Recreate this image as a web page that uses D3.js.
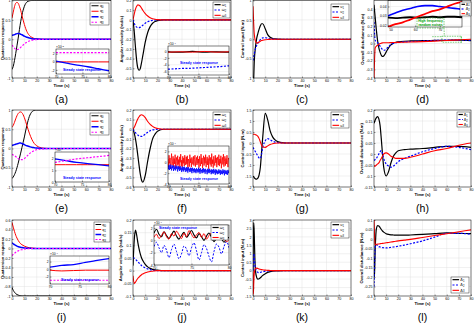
<!DOCTYPE html>
<html><head><meta charset="utf-8">
<script src="https://cdn.jsdelivr.net/npm/d3@7"></script>
<style>body{margin:0;background:#fff}svg{display:block}text{font-family:"Liberation Sans",Arial,sans-serif}</style>
</head><body><svg id="c" width="474" height="323"></svg>
<script>
// ---------- data ----------
const T  = [0,1,2,3,4,5,6,7,8,10,12,14,16,18,20,25,30,40,50,60,70,80];
const TF = [0,0.3,0.6,1,1.5,2,3,4,5,6,7,8,10,12,14,16,18,20,25,30,40,50,60,70,80];
const xTicksMain = [0,10,20,30,40,50,60,70,80];
const xTicksIn = [70,75,80];
const TIN = [70,72,74,76,78,80];

const aQ0 = [-0.78,-0.7,-0.55,-0.37,-0.17,0.03,0.25,0.45,0.62,0.85,0.96,0.99,1,1,1,1,1,1,1,1,1,1];
const aQ1 = [0.55,0.7,0.84,0.93,0.95,0.93,0.85,0.75,0.62,0.38,0.2,0.1,0.05,0.02,0.01,0,0,0,0,0,0,0];
const aQ2 = [0.1,0.11,0.12,0.135,0.145,0.15,0.145,0.13,0.115,0.08,0.05,0.03,0.015,0.008,0.004,0,0,0,0,0,0,0];
const aQ3 = [-0.15,-0.19,-0.23,-0.26,-0.27,-0.26,-0.24,-0.21,-0.18,-0.12,-0.075,-0.045,-0.025,-0.013,-0.007,-0.001,0,0,0,0,0,0];
const aInQ1 = [0,0,0,0,0,0];
const aInQ2 = [0.2,-0.3,-0.8,-1.2,-1.7,-2.2];
const aInQ3 = [2.3,2.3,2.3,2.3,2.3,2.3];

const bW1 = [0,-0.12,-0.28,-0.42,-0.5,-0.52,-0.5,-0.44,-0.37,-0.23,-0.13,-0.07,-0.035,-0.017,-0.008,0,0,0,0,0,0,0];
const bW2 = [0,-0.035,-0.06,-0.075,-0.08,-0.08,-0.075,-0.065,-0.055,-0.035,-0.02,-0.01,-0.005,-0.002,0,0,0,0,0,0,0,0];
const bW3 = [0,0.06,0.11,0.14,0.155,0.15,0.14,0.12,0.1,0.065,0.04,0.022,0.012,0.006,0.003,0,0,0,0,0,0,0];
const bInW1 = [-0.2,-0.3,-0.1,-0.3,-0.2,-0.3];
const bInW2 = [-5.3,-5.1,-5.0,-4.8,-4.6,-4.3];
const bInW3 = [-0.3,-0.2,-0.3,-0.1,-0.3,-0.2];

const cU1 = [-1.6,-0.6,-0.2,0.02,0.15,0.26,0.35,0.4,0.4,0.27,0.12,0.05,0.02,0.008,0.003,0,0,0,0,0,0,0];
const cU2 = [-0.55,-0.38,-0.25,-0.16,-0.1,-0.05,-0.01,0.02,0.035,0.04,0.025,0.012,0.005,0.002,0,0,0,0,0,0,0,0];
const cU3 = [0.85,0.15,-0.05,-0.1,-0.09,-0.07,-0.05,-0.035,-0.025,-0.012,-0.005,-0.002,0,0,0,0,0,0,0,0,0,0];

const dD1 = [0.45,0.3,0.15,0.03,-0.05,-0.1,-0.135,-0.15,-0.145,-0.1,-0.05,-0.015,0.005,0.015,0.02,0.027,0.03,0.033,0.036,0.038,0.04,0.035];
const dD2 = [0.25,0.04,0.02,0.01,-0.01,-0.03,-0.05,-0.07,-0.078,-0.065,-0.035,-0.012,0.002,0.01,0.015,0.02,0.024,0.03,0.036,0.04,0.04,0.037];
const dD3 = [-0.4,-0.05,-0.03,-0.02,-0.01,0,0.005,0.008,0.01,0.01,0.01,0.011,0.012,0.013,0.014,0.016,0.018,0.022,0.028,0.036,0.043,0.05];
const TIND = [49,52,55,58,61,64,67,70,73,76,79];
const dInD1 = [0.028,0.0275,0.028,0.0285,0.028,0.0285,0.029,0.0285,0.029,0.029,0.0285];
const dInD2 = [0.030,0.033,0.036,0.038,0.040,0.041,0.041,0.040,0.039,0.038,0.037];
const dInD3 = [0.018,0.021,0.023,0.026,0.029,0.032,0.035,0.037,0.040,0.043,0.045];

const eQ0 = [-0.78,-0.74,-0.68,-0.6,-0.5,-0.38,-0.25,-0.12,0.02,0.3,0.6,0.83,0.95,0.99,1,1,1,1,1,1,1,1];
const eQ1 = [0.55,0.6,0.68,0.77,0.85,0.91,0.94,0.95,0.93,0.8,0.6,0.4,0.24,0.13,0.07,0.01,0,0,0,0,0,0];
const eQ2 = [0.08,0.09,0.1,0.11,0.12,0.13,0.14,0.14,0.13,0.1,0.07,0.05,0.03,0.02,0.01,0.002,0,0,0,0,0,0];
const eQ3 = [-0.15,-0.17,-0.19,-0.21,-0.24,-0.26,-0.28,-0.29,-0.29,-0.26,-0.2,-0.14,-0.09,-0.05,-0.03,-0.01,0,0,0,0,0,0];
const eInQ1 = [1.5,1.5,1.5,1.5,1.5,1.5];
const eInQ2 = [2.0,1.85,1.7,1.6,1.5,1.4];
const eInQ3 = [1.7,1.85,2.0,2.1,2.2,2.3];

const fW1 = [0,-0.04,-0.1,-0.18,-0.28,-0.38,-0.47,-0.53,-0.55,-0.48,-0.33,-0.2,-0.1,-0.05,-0.02,0,0,0,0,0,0,0];
const fW2 = [0,-0.02,-0.035,-0.05,-0.06,-0.07,-0.075,-0.075,-0.07,-0.05,-0.03,-0.015,-0.007,-0.003,0,0,0,0,0,0,0,0];
const fW3 = [0,0.02,0.05,0.08,0.11,0.13,0.145,0.15,0.145,0.12,0.08,0.05,0.03,0.015,0.008,0,0,0,0,0,0,0];
const fInRed = [0.6,-0.9,1.3,-0.2,0.8,-1.2,0.3,1.6,-0.5,0.1,1.1,-0.8,0.7,-0.3,1.4,-1.0,0.2,0.9,-0.6,1.2,
 -0.4,0.5,-1.1,1.0,0.0,1.5,-0.7,0.4,-0.9,1.1,-0.2,0.8,-0.7,1.3,0.1,-0.5,1.0,-0.3,1.2,-1.0,
 0.6,0.2,-0.8,1.4,-0.1,0.7,-0.9,0.9,0.2,-0.4,1.1,-0.6,0.5,1.3,-0.8,0.3,0.9,-0.5,1.2,-0.2,
 0.6,-1.0,1.1,0.0,-0.7,1.5,-0.3,0.8,-1.1,0.4,1.2,-0.6,0.9,-0.2,1.4,-0.9,0.3,1.0,-0.5,0.7,
 -1.2,1.3,0.1,-0.4,0.9,-0.8,1.6,-0.3,0.5,-1.0,1.1,0.2,-0.6,1.3,-0.1,0.8,-0.9,1.0,0.3,-0.5,
 1.4,-0.7,0.6,-0.2,1.2,-1.1,0.4,0.9,-0.4,1.5,-0.8,0.2,1.1,-0.6,0.7,-0.3,1.3,0.0,-0.9,0.8,0.5];
const fInBlue = [-0.5,-1.3,-0.6,-1.4,-0.4,-1.2,-0.8,-1.5,-0.5,-1.1,-0.7,-1.6,-0.6,-1.3,-0.9,-1.5,-0.6,-1.2,-0.8,-1.7,
 -0.7,-1.3,-0.9,-1.6,-0.7,-1.4,-1.0,-1.8,-0.8,-1.5,-0.9,-1.7,-0.8,-1.4,-1.1,-1.8,-0.9,-1.6,-1.0,-1.9,
 -0.9,-1.5,-1.2,-1.8,-1.0,-1.7,-1.1,-2.0,-1.0,-1.6,-1.2,-1.9,-1.1,-1.8,-1.3,-2.0,-1.1,-1.7,-1.3,-1.9,
 -1.0,-1.8,-1.2,-2.1,-1.1,-1.7,-1.4,-2.0,-1.2,-1.9,-1.1,-1.8,-1.3,-2.1,-1.2,-1.7,-1.5,-2.2,-1.2,-1.9,
 -1.3,-2.0,-1.2,-1.8,-1.5,-2.2,-1.3,-2.0,-1.4,-2.1,-1.2,-1.9,-1.5,-2.3,-1.3,-2.0,-1.4,-2.2,-1.6,-2.1,
 -1.3,-2.0,-1.5,-2.3,-1.4,-2.1,-1.6,-2.2,-1.3,-2.0,-1.5,-2.4,-1.4,-2.1,-1.6,-2.2,-1.5,-2.3,-1.4,-2.0,-1.6];

const gU1 = [-1.5,-1.58,-1.63,-1.64,-1.6,-1.45,-1.1,-0.4,0.3,1.35,1.05,0.55,0.28,0.14,0.07,0.01,0,0,0,0,0,0];
const gU2 = [-0.2,-0.3,-0.4,-0.5,-0.6,-0.68,-0.7,-0.5,-0.2,0.1,0.2,0.15,0.08,0.04,0.02,0,0,0,0,0,0,0];
const gU3 = [0.4,0.4,0.38,0.35,0.3,0.2,0.05,-0.1,-0.18,-0.2,-0.13,-0.07,-0.03,-0.01,0,0,0,0,0,0,0,0];

const hD1 = [0.14,0.155,0.165,0.17,0.16,0.13,0.07,0,-0.06,-0.1,-0.08,-0.04,-0.01,0.005,0.015,0.02,0.022,0.025,0.03,0.035,0.035,0.03];
const hD2 = [-0.03,-0.025,-0.02,-0.01,0,0.01,0.015,0,-0.02,-0.045,-0.055,-0.06,-0.055,-0.045,-0.035,-0.02,-0.01,0.01,0.025,0.035,0.03,0.02];
const hD3 = [-0.055,-0.055,-0.05,-0.045,-0.04,-0.03,-0.02,-0.01,0,0.005,0,-0.01,-0.015,-0.02,-0.02,-0.02,-0.015,0,0.015,0.025,0.04,0.05];

const iQ0 = [-0.82,-0.88,-0.92,-0.95,-0.97,-0.98,-0.99,-0.995,-1,-1,-1,-1,-1,-1,-1,-1,-1,-1,-1,-1,-1,-1];
const iQ1 = [0.55,0.45,0.36,0.28,0.22,0.17,0.13,0.1,0.08,0.05,0.03,0.015,0.01,0.005,0,0,0,0,0,0,0,0];
const iQ2 = [0.12,0.1,0.08,0.065,0.05,0.04,0.03,0.025,0.02,0.012,0.007,0.004,0.002,0,0,0,0,0,0,0,0,0];
const iQ3 = [-0.15,-0.12,-0.1,-0.08,-0.065,-0.05,-0.04,-0.03,-0.025,-0.015,-0.008,-0.004,0,0,0,0,0,0,0,0,0,0];
const iInQ1 = [-0.3,-0.5,-0.4,-0.3,-0.3,-0.3];
const iInQ2 = [0.5,1.0,1.2,1.8,2.3,2.8];
const iInQ3 = [-3,-3,-3,-3,-3,-3];

const jW1 = [0.02,0.12,0.16,0.14,0.11,0.085,0.065,0.05,0.04,0.025,0.015,0.009,0.005,0.003,0.002,0,0,0,0,0,0,0];
const jW2 = [0.05,0.05,0.045,0.04,0.035,0.03,0.025,0.02,0.017,0.011,0.007,0.004,0.002,0.001,0,0,0,0,0,0,0,0];
const jW3 = [-0.02,-0.05,-0.045,-0.037,-0.03,-0.025,-0.02,-0.016,-0.013,-0.008,-0.005,-0.003,-0.002,-0.001,0,0,0,0,0,0,0,0];
const jInBlack = [1.2,1.8,1.0,0.6,1.4,0.8,0.3,0.9,1.5,0.7,0.2,0.8,1.3,0.5,1.0,1.6,0.9,0.4,1.1,0.6,0.0,0.7,1.2,0.5,-0.2,0.4,0.9,0.3,-0.3,0.2,0.5];
const jInRed = [0.5,1.0,0.3,0.8,1.4,0.6,0.2,1.1,0.7,1.5,0.9,0.3,1.2,0.6,1.6,1.0,0.4,0.9,1.3,0.5,1.1,0.2,0.8,1.2,0.4,0.9,0.1,0.7,0.3,-0.2,0.1];
const jInBlue = [-1.0,-0.3,-1.2,-2.0,-0.8,-1.6,-2.8,-1.5,-0.6,-1.8,-3.0,-2.2,-0.9,-1.4,-2.5,-1.2,-0.4,-1.7,-3.2,-2.0,-0.7,-1.3,-2.6,-3.5,-1.8,-0.6,-1.1,-2.2,-1.0,-0.2,-1.2];

const kU1 = [0,2,2.85,2.2,0.8,0,-0.4,-0.5,-0.48,-0.42,-0.35,-0.28,-0.18,-0.1,-0.06,-0.03,-0.015,-0.01,0,0,0,0,0,0,0];
const kU2 = [0,0.6,1,0.8,0.4,0.15,0,-0.1,-0.12,-0.1,-0.08,-0.06,-0.04,-0.02,-0.01,0,0,0,0,0,0,0,0,0,0];
const kU3 = [0,-1.4,-0.8,-0.2,0.05,0.12,0.15,0.13,0.1,0.08,0.06,0.05,0.03,0.02,0.01,0,0,0,0,0,0,0,0,0,0];

const lD1 = [-0.1,-0.2,-0.15,-0.05,0.02,0.055,0.07,0.068,0.06,0.05,0.042,0.036,0.028,0.024,0.022,0.021,0.02,0.02,0.02,0.021,0.024,0.028,0.032,0.03,0.028];
const lD2 = [-0.25,-0.18,-0.1,-0.04,-0.03,-0.03,-0.035,-0.04,-0.042,-0.044,-0.045,-0.046,-0.047,-0.046,-0.044,-0.042,-0.04,-0.038,-0.032,-0.025,-0.01,0.01,0.03,0.03,0.025];
const lD3 = [0.1,0.05,-0.01,-0.03,-0.03,-0.028,-0.027,-0.026,-0.025,-0.024,-0.023,-0.022,-0.02,-0.018,-0.016,-0.014,-0.012,-0.01,-0.006,-0.002,0.008,0.018,0.028,0.038,0.048];

const qNames = [["q","0"],["q","1"],["q","2"],["q","3"]];
const wNames = [["ω","1"],["ω","2"],["ω","3"]];
const uNames = [["u","1"],["u","2"],["u","3"]];
const dNames = [["Δ","1"],["Δ","2"],["Δ","3"]];
const panelLabels = ["(a)","(b)","(c)","(d)","(e)","(f)","(g)","(h)","(i)","(j)","(k)","(l)"];
const yLabels = ["Quaternion response","Angular velocity (rad/s)","Control input (N.m)","Overall disturbance (N.m)"];

// ---------- helpers ----------
const svg = d3.select("#c");
const BLK="#000", RED="#ff0000", BLU="#0000ff", MAG="#ff00ff";
const sQ = (t,a,b,c,d)=>[{t,v:a,c:BLK,w:1},{t,v:b,c:RED,w:1},{t,v:c,c:BLU,w:1.5},{t,v:d,c:MAG,w:1.2,dash:"2,1.5"}];
const s3 = (t,a,b,c)=>[{t,v:a,c:BLK,w:1.2},{t,v:b,c:BLU,w:1.2,dash:"2,1.5"},{t,v:c,c:RED,w:1.1}];
const range = (a,b,s)=>d3.range(a,b+s/2,s).map(v=>+v.toFixed(4));
const span = (arr,a,b)=>arr.map((_,i)=>a+i*(b-a)/(arr.length-1));
let clipId=0;

function fmt(v){ return (+v.toFixed(4)).toString(); }

function drawAxes(g, x, y, xt, yt, box, fs){
  g.append("g").selectAll("line").data(xt).join("line")
    .attr("x1",d=>x(d)).attr("x2",d=>x(d)).attr("y1",box.y0).attr("y2",box.y1)
    .attr("stroke","#dcdcdc").attr("stroke-width",0.4);
  g.append("g").selectAll("line").data(yt).join("line")
    .attr("y1",d=>y(d)).attr("y2",d=>y(d)).attr("x1",box.x0).attr("x2",box.x1)
    .attr("stroke","#dcdcdc").attr("stroke-width",0.4);
  const ax = g.append("g").attr("transform",`translate(0,${box.y1})`)
    .call(d3.axisBottom(x).tickValues(xt).tickSize(-1.5).tickPadding(1.5).tickFormat(fmt));
  const ay = g.append("g").attr("transform",`translate(${box.x0},0)`)
    .call(d3.axisLeft(y).tickValues(yt).tickSize(-1.5).tickPadding(1.5).tickFormat(fmt));
  [ax,ay].forEach(a=>{a.select(".domain").remove();a.selectAll("line").attr("stroke","#000").attr("stroke-width",0.4);
    a.selectAll("text").attr("font-size",fs).attr("fill","#000").attr("font-family","Liberation Sans, Arial");});
  ax.selectAll("text").attr("dy","0.7em");
}

function drawSeries(g, x, y, series, box){
  const id = "clip"+(clipId++);
  g.append("clipPath").attr("id",id).append("rect")
    .attr("x",box.x0).attr("y",box.y0).attr("width",box.x1-box.x0).attr("height",box.y1-box.y0);
  const gg = g.append("g").attr("clip-path",`url(#${id})`);
  series.forEach(s=>{
    const pts = s.t.map((t,i)=>[t,s.v[i]]);
    gg.append("path").datum(pts)
      .attr("d",d3.line().x(d=>x(d[0])).y(d=>y(d[1])).curve(s.lin?d3.curveLinear:d3.curveMonotoneX))
      .attr("fill","none").attr("stroke",s.c).attr("stroke-width",s.w)
      .attr("stroke-dasharray",s.dash||null).attr("stroke-linejoin","round");
  });
}

function legendLabel(sel, name, fs){
  sel.append("tspan").text(name[0]);
  sel.append("tspan").attr("font-size",fs*0.7).attr("dy",fs*0.25).text(name[1]);
}

function drawLegend(g, L, series, names){
  g.append("rect").attr("x",L.x).attr("y",L.y).attr("width",L.w).attr("height",L.h)
    .attr("fill","#fff").attr("stroke","#000").attr("stroke-width",0.4);
  const n = names.length, step = L.h/n;
  names.forEach((nm,i)=>{
    const cy = L.y + step*(i+0.5), s = series[i];
    g.append("line").attr("x1",L.x+1.5).attr("x2",L.x+L.w*0.45).attr("y1",cy).attr("y2",cy)
      .attr("stroke",s.c).attr("stroke-width",s.w).attr("stroke-dasharray",s.dash||null);
    const t = g.append("text").attr("x",L.x+L.w*0.52).attr("y",cy+1.2).attr("font-size",3.8);
    legendLabel(t,nm,3.8);
  });
}

function drawPanel(p){
  const g = svg.append("g");
  const box = p.box;
  const x = d3.scaleLinear().domain(p.xd||[0,80]).range([box.x0,box.x1]);
  const y = d3.scaleLinear().domain(p.yd).range([box.y1,box.y0]);
  g.append("rect").attr("x",box.x0).attr("y",box.y0).attr("width",box.x1-box.x0).attr("height",box.y1-box.y0).attr("fill","#fff");
  drawAxes(g,x,y,p.xt||xTicksMain,p.yt,box,3.6);
  drawSeries(g,x,y,p.series,box);
  if(p.extra) p.extra(g,x,y);
  if(p.inset){
    const I=p.inset, ib={x0:I.x0,y0:I.y0,x1:I.x1,y1:I.y1};
    const ix = d3.scaleLinear().domain(I.xd||[70,80]).range([ib.x0,ib.x1]);
    const iy = d3.scaleLinear().domain(I.yd).range([ib.y1,ib.y0]);
    g.append("rect").attr("x",ib.x0).attr("y",ib.y0).attr("width",ib.x1-ib.x0).attr("height",ib.y1-ib.y0).attr("fill","#fff");
    drawAxes(g,ix,iy,I.xt||xTicksIn,I.yt,ib,3.3);
    drawSeries(g,ix,iy,I.series,ib);
    g.append("rect").attr("x",ib.x0).attr("y",ib.y0).attr("width",ib.x1-ib.x0).attr("height",ib.y1-ib.y0)
      .attr("fill","none").attr("stroke","#000").attr("stroke-width",0.5);
    if(I.exp){
      const t=g.append("text").attr("x",ib.x0).attr("y",ib.y0-1).attr("font-size",3.3);
      t.append("tspan").text("×10");
      t.append("tspan").attr("font-size",2.4).attr("dy",-1.3).text(I.exp);
    }
    if(I.text){
      g.append("text").attr("x",I.text[0]).attr("y",I.text[1]).attr("font-size",3.6).attr("font-weight","bold")
        .attr("fill","#0000ff").attr("text-anchor","middle").text("Steady state response");
    }
    if(I.extra) I.extra(g,ix,iy);
  }
  g.append("rect").attr("x",box.x0).attr("y",box.y0).attr("width",box.x1-box.x0).attr("height",box.y1-box.y0)
    .attr("fill","none").attr("stroke","#000").attr("stroke-width",0.5);
  if(p.legend) drawLegend(g,p.legend,p.series,p.names);
  const cx = (box.x0+box.x1)/2;
  g.append("text").attr("x",cx).attr("y",box.y1+8.5).attr("text-anchor","middle")
    .attr("font-size",4.2).attr("font-weight","bold").text("Time (s)");
  g.append("text").attr("transform",`translate(${box.x0-p.ylOff},${(box.y0+box.y1)/2}) rotate(-90)`)
    .attr("text-anchor","middle").attr("font-size",4.2).attr("font-weight","bold").text(p.ylab);
  g.append("text").attr("x",cx).attr("y",box.y1+24.5).attr("text-anchor","middle")
    .attr("font-family","Liberation Serif, Times New Roman, serif").attr("font-size",10.5).text(p.label);
}

// ---------- layout ----------
const COLS = [[12,111],[133,231],[253,351],[374,471]];
const ROWS = [[0.5,78],[110,187],[220,296]];
const B = (c,r)=>({x0:COLS[c][0],x1:COLS[c][1],y0:ROWS[r][0],y1:ROWS[r][1]});

const panels = [
 {box:B(0,0), yd:[-1,1], yt:[-1,-0.5,0,0.5,1], ylab:yLabels[0], ylOff:8, series:sQ(T,aQ0,aQ1,aQ2,aQ3), names:qNames,
  legend:{x:90,y:3,w:19,h:22},
  inset:{x0:56,y0:49,x1:109,y1:74, yd:[-3,3.2], yt:[-2,0,2], exp:"-3", text:[82,71],
    series:[{t:TIN,v:aInQ1,c:RED,w:1},{t:TIN,v:aInQ2,c:BLU,w:1.3},{t:TIN,v:aInQ3,c:MAG,w:1.2,dash:"2,1.5"}]}},
 {box:B(1,0), yd:[-0.6,0.2], yt:range(-0.6,0.2,0.1), ylab:yLabels[1], ylOff:10, series:s3(T,bW1,bW2,bW3), names:wNames,
  legend:{x:213,y:2,w:17,h:16},
  inset:{x0:168,y0:46,x1:229,y1:75, yd:[-7,1.5], yt:[-6,-4,-2,0], exp:"-4", text:[199,64],
    series:[{t:TIN,v:bInW1,c:BLK,w:1.2},{t:TIN,v:bInW2,c:BLU,w:1.2,dash:"2,1.5"},{t:TIN,v:bInW3,c:RED,w:1}]}},
 {box:B(2,0), yd:[-1,1], yt:[-1,-0.5,0,0.5,1], ylab:yLabels[2], ylOff:9, series:s3(T,cU1,cU2,cU3), names:uNames,
  legend:{x:331,y:4,w:18,h:16}},
 {box:B(3,0), yd:[-0.4,0.5], yt:range(-0.4,0.4,0.1), ylab:yLabels[3], ylOff:10, series:s3(T,dD1,dD2,dD3), names:dNames,
  legend:{x:460,y:2,w:11,h:14},
  inset:{x0:388,y0:0.5,x1:462,y1:27, xd:[49,79], xt:[50,60,70], yd:[0.018,0.0465], yt:[0.02,0.03,0.04],
    series:[{t:TIND,v:dInD1,c:BLK,w:1.8},{t:TIND,v:dInD2,c:BLU,w:1.6},{t:TIND,v:dInD3,c:RED,w:1.8}],
    extra:(g)=>{
      g.append("rect").attr("x",417).attr("y",18).attr("width",27).attr("height",10).attr("fill","none")
        .attr("stroke","#00a000").attr("stroke-width",0.5).attr("stroke-dasharray","1.5,1");
      g.append("text").attr("x",430.5).attr("y",21.8).attr("text-anchor","middle").attr("font-size",3.4).attr("font-weight","bold").attr("fill","#00a000").text("High frequency");
      g.append("text").attr("x",430.5).attr("y",26).attr("text-anchor","middle").attr("font-size",3.4).attr("font-weight","bold").attr("fill","#00a000").text("random noises");
    }},
  extra:(g,x,y)=>{
    const gr="#00a000";
    g.append("rect").attr("x",x(56)).attr("y",y(0.085)).attr("width",x(72)-x(56)).attr("height",y(0.015)-y(0.085))
      .attr("fill","none").attr("stroke",gr).attr("stroke-width",0.5).attr("stroke-dasharray","1.5,1");
    g.append("line").attr("x1",x(48)).attr("x2",x(56)).attr("y1",y(0.08)).attr("y2",y(0.08)).attr("stroke",gr).attr("stroke-width",0.5).attr("stroke-dasharray","1.5,1");
    g.append("line").attr("x1",444).attr("x2",x(58)).attr("y1",28).attr("y2",y(0.085)).attr("stroke",gr).attr("stroke-width",0.5).attr("stroke-dasharray","1.5,1");
    g.append("line").attr("x1",x(72)).attr("x2",x(72)).attr("y1",y(0.085)).attr("y2",y(0.0)).attr("stroke",gr).attr("stroke-width",0.5).attr("stroke-dasharray","1.5,1");
  }},
 {box:B(0,1), yd:[-1,1], yt:[-1,-0.5,0,0.5,1], ylab:yLabels[0], ylOff:8, series:sQ(T,eQ0,eQ1,eQ2,eQ3), names:qNames,
  legend:{x:90,y:113,w:19,h:22},
  inset:{x0:55,y0:152,x1:109,y1:182, yd:[0,2.6], yt:[0,1,2], exp:"-4", text:[82,179],
    series:[{t:TIN,v:eInQ1,c:RED,w:1},{t:TIN,v:eInQ2,c:BLU,w:1.3},{t:TIN,v:eInQ3,c:MAG,w:1.2,dash:"2,1.5"}]}},
 {box:B(1,1), yd:[-0.6,0.2], yt:range(-0.6,0.2,0.1), ylab:yLabels[1], ylOff:10, series:s3(T,fW1,fW2,fW3), names:wNames,
  legend:{x:213,y:112,w:17,h:16},
  inset:{x0:168,y0:146,x1:229,y1:184, yd:[-4,3], yt:[-4,-2,0,2], exp:"-4", text:[199,180],
    series:[{t:span(fInRed,70,80),v:fInRed,c:RED,w:0.8,lin:true},{t:span(fInBlue,70,80),v:fInBlue,c:BLU,w:0.8,lin:true}]}},
 {box:B(2,1), yd:[-2,1.5], yt:range(-2,1.5,0.5), ylab:yLabels[2], ylOff:9, series:s3(T,gU1,gU2,gU3), names:uNames,
  legend:{x:331,y:112,w:18,h:16}},
 {box:B(3,1), yd:[-0.15,0.2], yt:range(-0.15,0.2,0.05), ylab:yLabels[3], ylOff:11, series:s3(T,hD1,hD2,hD3), names:dNames,
  legend:{x:457,y:112,w:13,h:15}},
 {box:B(0,2), yd:[-1,0.6], yt:range(-1,0.6,0.2), ylab:yLabels[0], ylOff:8, series:sQ(T,iQ0,iQ1,iQ2,iQ3), names:qNames,
  legend:{x:94,y:222,w:16,h:20},
  inset:{x0:50,y0:256,x1:109,y1:284, yd:[-4,3.5], yt:[-2,0,2], exp:"-4", text:[80,281],
    series:[{t:TIN,v:iInQ1,c:RED,w:1},{t:TIN,v:iInQ2,c:BLU,w:1.3},{t:TIN,v:iInQ3,c:MAG,w:1.2,dash:"2,1.5"}]}},
 {box:B(1,2), yd:[-0.1,0.2], yt:range(-0.1,0.2,0.05), ylab:yLabels[1], ylOff:11, series:s3(T,jW1,jW2,jW3), names:wNames,
  legend:{x:211,y:225,w:17,h:15},
  inset:{x0:154,y0:225,x1:229,y1:265, yd:[-4,2.5], yt:[-4,-2,0,2], exp:"-4", text:[178,229],
    series:[{t:span(jInBlack,70,80),v:jInBlack,c:BLK,w:1.1},{t:span(jInBlue,70,80),v:jInBlue,c:BLU,w:1,dash:"2,1.5"},{t:span(jInRed,70,80),v:jInRed,c:RED,w:1}]}},
 {box:B(2,2), yd:[-1.5,3], yt:range(-1.5,3,0.5), ylab:yLabels[2], ylOff:9, series:s3(TF,kU1,kU2,kU3), names:uNames,
  legend:{x:331,y:222,w:18,h:16}},
 {box:B(3,2), yd:[-0.3,0.1], yt:range(-0.3,0.1,0.05), ylab:yLabels[3], ylOff:11, series:s3(TF,lD1,lD2,lD3), names:dNames,
  legend:{x:451,y:277,w:18,h:16}},
];
panels.forEach((p,i)=>{p.label=panelLabels[i]; drawPanel(p);});
</script></body></html>
